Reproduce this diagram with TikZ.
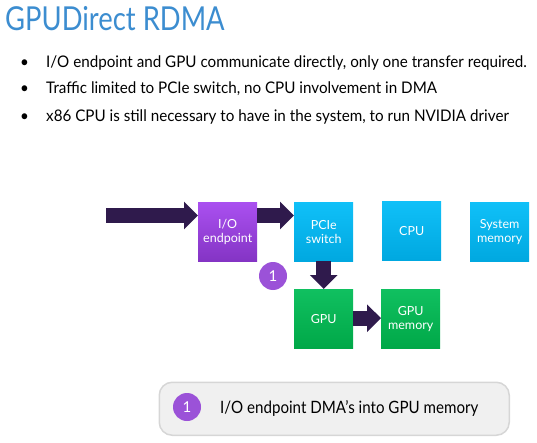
\documentclass[tikz,border=0pt]{standalone}
\usepackage{fontspec}
\setmainfont{Lato}
\newfontfamily\titlefont[FakeStretch=0.83]{Lato}
\newfontfamily\bulletfont[FakeStretch=0.95]{Lato}
\newfontfamily\legfont[FakeStretch=0.89]{Lato}
\usetikzlibrary{arrows.meta}
\definecolor{titleblue}{HTML}{3C8DD0}
\definecolor{arrowc}{HTML}{2F1A4C}
\definecolor{purpA}{HTML}{AA50F0}
\definecolor{purpB}{HTML}{8434C4}
\definecolor{cyanA}{HTML}{10C0F8}
\definecolor{cyanB}{HTML}{00A8E0}
\definecolor{greenA}{HTML}{10C060}
\definecolor{greenB}{HTML}{00A848}
\definecolor{badge}{HTML}{9B52D8}
\definecolor{legfill}{HTML}{F0F0F0}
\definecolor{legdraw}{HTML}{D6D6D6}
\tikzset{
  blk/.style={minimum width=59pt,minimum height=59pt,inner sep=0pt,text=white,
    font=\fontsize{12.5}{14}\selectfont,align=center,anchor=north west},
  purp/.style={blk,top color=purpA,bottom color=purpB},
  cyanb/.style={blk,top color=cyanA,bottom color=cyanB},
  greenb/.style={blk,top color=greenA,bottom color=greenB},
  bigarrow/.style={draw=arrowc,line width=15pt,line cap=butt,
    -{Triangle[length=14pt,width=27pt]}},
  bullettext/.style={anchor=base west,inner sep=0pt,font=\bulletfont\fontsize{16}{18}\selectfont,text=black},
  numbadge/.style={circle,fill=badge,text=white,minimum size=28pt,inner sep=0pt,
    font=\fontsize{15}{16}\selectfont}
}
\begin{document}
\begin{tikzpicture}[x=1pt,y=1pt]
\useasboundingbox (0,0) rectangle (537,-443);
\node[anchor=base west,inner sep=0pt,text=titleblue,font=\titlefont\fontsize{33}{36}\selectfont] (title) at (5,-31) {GPUDirect RDMA};
\node[bullettext] (b1d) at (20,-68) {•};
\node[bullettext] (b1) at (46,-68) {I/O endpoint and GPU communicate directly, only one transfer required.};
\node[bullettext] (b2d) at (20,-94) {•};
\node[bullettext] (b2) at (46,-94) {Traffic limited to PCIe switch, no CPU involvement in DMA};
\node[bullettext] (b3d) at (20,-122) {•};
\node[bullettext] (b3) at (46,-122) {x86 CPU is still necessary to have in the system, to run NVIDIA driver};

\node[purp] (io) at (198,-202) {I/O\\endpoint};
\node[cyanb] (pcie) at (294,-202) {PCIe\\switch};
\node[cyanb] (cpu) at (382,-201) {CPU};
\node[cyanb] (sysmem) at (470,-202) {System\\memory};
\node[greenb] (gpu) at (294,-289) {GPU};
\node[greenb] (gpumem) at (381,-289) {GPU\\memory};

\coordinate (in) at (106,-215.5);
\draw[bigarrow] (in) -- (in -| io.west);
\draw[bigarrow] (in -| io.east) -- (in -| pcie.west);
\draw[bigarrow] (pcie.south) -- (gpu.north);
\draw[bigarrow] ([yshift=0.5pt]gpu.east) -- ([yshift=0.5pt]gpumem.west);

\node[numbadge] (n1) at (273,-276) {1};

\node[draw=legdraw,line width=1.5pt,fill=legfill,rounded corners=13pt,
  minimum width=350pt,minimum height=53pt,anchor=north west] (legend) at (158.5,-381.5) {};
\node[numbadge] (n2) at (187,-407) {1};
\node[anchor=base west,inner sep=0pt,font=\legfont\fontsize{17}{19}\selectfont] (legtext) at (220,-413) {I/O endpoint DMA’s into GPU memory};
\end{tikzpicture}
\end{document}
